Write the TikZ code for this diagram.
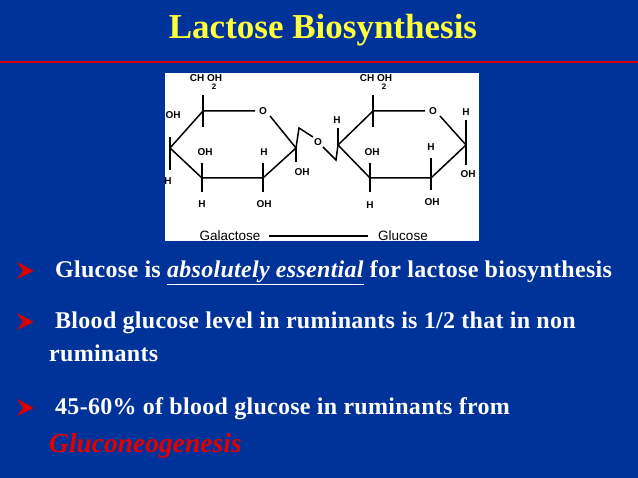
\documentclass[tikz,border=0pt]{standalone}
\usepackage{fontspec}
\setmainfont{Liberation Serif}
\newfontfamily\chemf{Liberation Sans}
\newfontfamily\bodyf[LetterSpace=1.2]{Liberation Serif}
\begin{document}
\begin{tikzpicture}[x=1pt,y=-1pt,
  bond/.style={line width=1.5pt,black},
  lbl/.style={font=\chemf\bfseries\fontsize{10}{11}\selectfont,inner sep=0pt,text=black},
  btxt/.style={font=\bodyf\bfseries\fontsize{24}{26}\selectfont,text=white,anchor=base west,inner sep=0pt},
  barrow/.style={fill=red!85!black,draw=none}]
\useasboundingbox (0,0) rectangle (638,478);
\fill[fill={rgb,255:red,0;green,51;blue,153}] (0,0) rectangle (638,478);
\node[font=\bfseries\fontsize{35}{38}\selectfont,text={rgb,255:red,255;green,255;blue,60}] (title) at (323,30) {Lactose Biosynthesis};
\draw[line width=2.5pt,red!85!black] (0,62) -- (638,62);
\fill[white] (165,73) rectangle (479,241);
% left ring
\coordinate (a5) at (203,111); \coordinate (ao) at (263,111);
\coordinate (a1) at (296,148); \coordinate (a2) at (263,178);
\coordinate (a3) at (202,178); \coordinate (a4) at (170,148);
\draw[bond] (255,111) -- (a5) -- (a4) -- (a3) -- (a2) -- (a1) -- (270,116);
\node[lbl] (oa) at (263,111) {O};
\draw[bond] (203,95) -- (203,127);
\node[lbl] (ch1) at (206,78) {CH OH}; \node[lbl,font=\chemf\bfseries\fontsize{8}{9}\selectfont] at (214,87) {2};
\node[lbl] (o4) at (173,115) {OH}; \draw[bond] (170,137) -- (170,170); \node[lbl] at (168,181) {H};
\node[lbl] at (205,152) {OH}; \draw[bond] (202,163) -- (202,192); \node[lbl] at (202,204) {H};
\node[lbl] at (264,152) {H}; \draw[bond] (263,163) -- (263,192); \node[lbl] at (264,204) {OH};
\draw[bond] (a1) -- (296,162); \node[lbl] at (302,172) {OH};
\draw[bond] (a1) -- (299,128) -- (313,137);
\node[lbl] (ob) at (318,142) {O};
% right ring
\coordinate (b5) at (373,111); \coordinate (bo) at (433,111);
\coordinate (b1) at (466,145); \coordinate (b2) at (431,178);
\coordinate (b3) at (370,178); \coordinate (b4) at (338,145);
\draw[bond] (425,111) -- (b5) -- (b4) -- (b3) -- (b2) -- (b1) -- (440,116);
\node[lbl] at (433,111) {O};
\draw[bond] (323,147) -- (336,160) -- (b4);
\draw[bond] (b4) -- (338,128); \node[lbl] at (337,120) {H};
\draw[bond] (373,95) -- (373,127);
\node[lbl] at (376,78) {CH OH}; \node[lbl,font=\chemf\bfseries\fontsize{8}{9}\selectfont] at (384,87) {2};
\node[lbl] at (372,152) {OH}; \draw[bond] (370,163) -- (370,192); \node[lbl] at (370,205) {H};
\node[lbl] at (431,147) {H}; \draw[bond] (431,158) -- (431,190); \node[lbl] at (432,202) {OH};
\node[lbl] at (466,112) {H}; \draw[bond] (466,120) -- (466,165); \node[lbl] at (468,174) {OH};
\node[font=\chemf\fontsize{13.5}{14}\selectfont,text=black,inner sep=0pt] (gal) at (230,236) {Galactose};
\node[font=\chemf\fontsize{13.5}{14}\selectfont,text=black,inner sep=0pt] (glu) at (403,236) {Glucose};
\draw[line width=1.2pt] ([xshift=8pt]gal.east) -- ([xshift=-10pt]glu.west);
% bullets
\foreach \y in {271,322,408}{\fill[barrow] (17,\y-9) -- (34,\y) -- (17,\y+8) -- (23,\y) -- cycle;}
\node[btxt] (t1) at (55,278) {Glucose is \underline{\itshape absolutely essential} for lactose biosynthesis};
\node[btxt] (t2) at (55,329) {Blood glucose level in ruminants is 1/2 that in non};
\node[btxt] (t2b) at (49,362) {ruminants};
\node[btxt] (t3) at (55,415) {45-60\% of blood glucose in ruminants from};
\node[btxt,text=red!90!black,font=\bfseries\itshape\fontsize{27.5}{29}\selectfont] (t3b) at (49,453) {Gluconeogenesis};
\end{tikzpicture}
\end{document}
